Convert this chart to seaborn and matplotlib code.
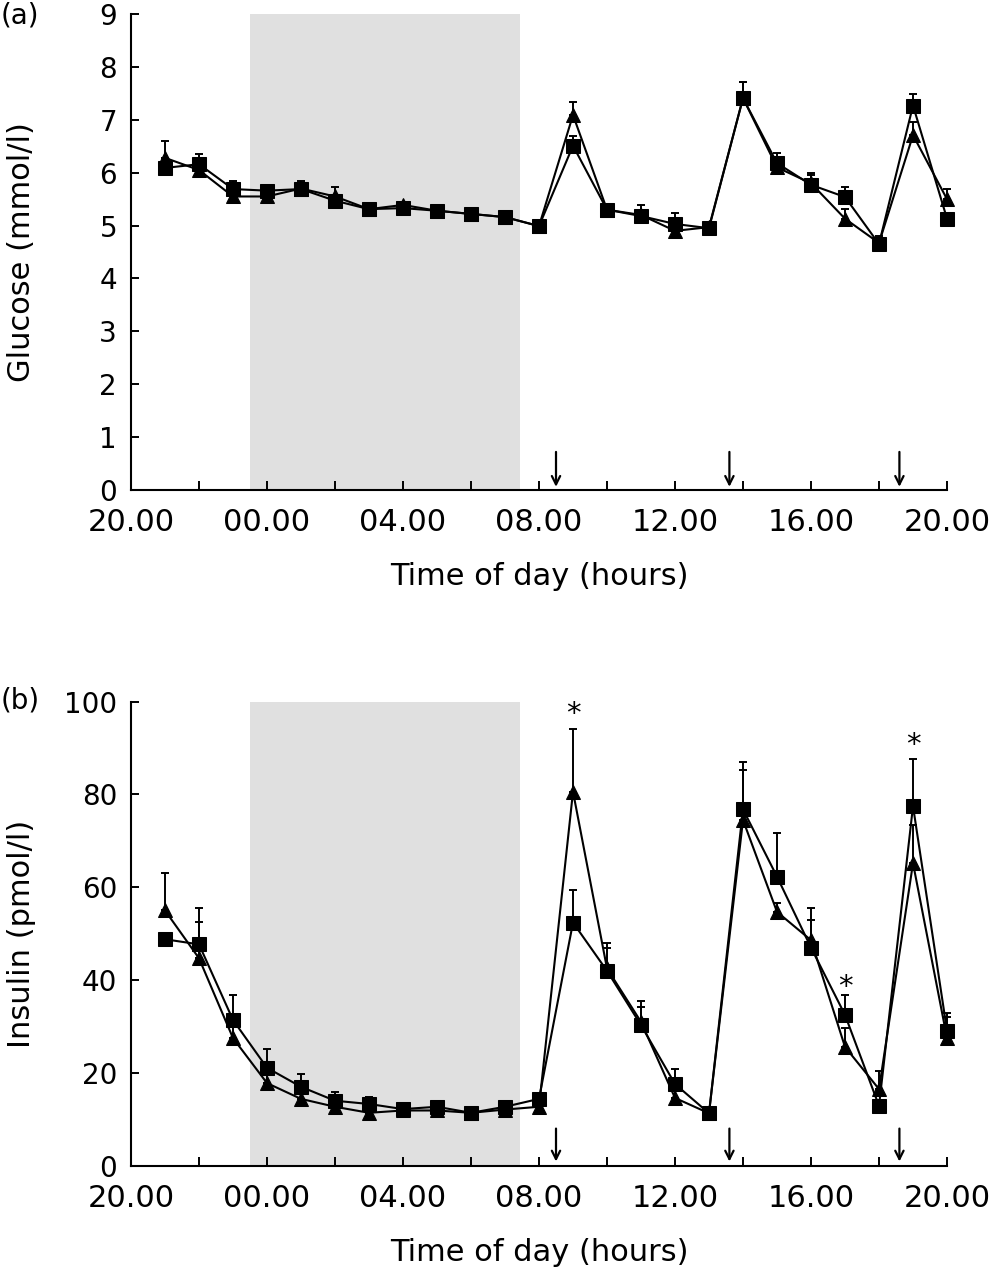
import numpy as np
import pandas as pd
import matplotlib
matplotlib.use("Agg")
import matplotlib.pyplot as plt
import seaborn as sns

# ---------------- data ----------------
# clock hours 21:00 (day 1) ... 20:00 (day 2), expressed as hours since 00:00 of day 1
hours = np.arange(21, 45)

glu_tri = [6.28, 6.05, 5.55, 5.55, 5.70, 5.55, 5.31, 5.39, 5.28, 5.22, 5.16, 4.99,
           7.09, 5.30, 5.20, 4.90, 4.97, 7.41, 6.10, 5.80, 5.13, 4.67, 6.71, 5.50]
glu_tri_se = [0.32, 0.10, 0.10, 0.08, 0.10, 0.17, 0.05, 0.06, 0.05, 0.05, 0.05, 0.05,
              0.25, 0.08, 0.10, 0.10, 0.05, 0.30, 0.20, 0.15, 0.19, 0.10, 0.25, 0.20]
glu_sq = [6.09, 6.16, 5.69, 5.66, 5.69, 5.47, 5.31, 5.33, 5.28, 5.22, 5.16, 4.99,
          6.51, 5.30, 5.18, 5.03, 4.95, 7.41, 6.18, 5.77, 5.54, 4.65, 7.27, 5.13]
glu_sq_se = [0.05, 0.19, 0.16, 0.05, 0.16, 0.05, 0.05, 0.05, 0.05, 0.04, 0.04, 0.04,
             0.18, 0.10, 0.21, 0.21, 0.08, 0.31, 0.19, 0.22, 0.18, 0.16, 0.22, 0.08]

ins_tri = [55.0, 44.7, 27.5, 17.8, 14.4, 12.7, 11.4, 11.9, 11.9, 11.4, 12.1, 12.7,
           80.6, 42.5, 31.0, 14.6, 11.3, 74.5, 54.7, 48.6, 25.6, 16.5, 65.2, 27.5]
ins_tri_se = [8.0, 7.8, 3.0, 2.0, 1.5, 1.0, 1.0, 0.8, 0.8, 0.8, 0.8, 0.8,
              13.5, 4.4, 3.3, 1.5, 0.8, 10.8, 2.0, 4.3, 4.1, 4.0, 8.2, 4.5]
ins_sq = [48.8, 47.7, 31.4, 21.1, 17.0, 14.0, 13.3, 12.2, 12.7, 11.4, 12.7, 14.4,
          52.4, 42.0, 30.3, 17.6, 11.3, 76.8, 62.3, 47.0, 32.5, 12.9, 77.5, 29.1]
ins_sq_se = [1.0, 7.9, 5.3, 4.0, 2.8, 1.9, 1.5, 0.8, 0.8, 0.8, 0.8, 0.8,
             7.0, 6.0, 5.3, 3.2, 0.8, 10.3, 9.3, 8.6, 4.3, 1.0, 10.1, 3.8]

night_start, night_end = 23.5, 31.45          # shaded sleeping period
meal_times = [32.5, 37.6, 42.6]               # arrows (meals)
star_hours = [33, 41, 43]                     # significance marks (insulin)
star_y = [95.6, 36.7, 89.0]

x_major = np.arange(20, 45, 4)
x_minor = np.arange(20, 45, 2)
x_labels = [f"{int(h) % 24:02d}.00" for h in x_major]

# ---------------- style ----------------
sns.set_theme(style="ticks")
plt.rcParams["font.family"] = ["DejaVu Sans"]
plt.rcParams["axes.linewidth"] = 1.5
plt.rcParams["text.color"] = "black"
plt.rcParams["axes.labelcolor"] = "black"
plt.rcParams["xtick.color"] = "black"
plt.rcParams["ytick.color"] = "black"

fig = plt.figure(figsize=(9.89, 12.72), dpi=100)
ax1 = fig.add_axes([0.13246, 0.61478, 0.82508, 0.37421])
ax2 = fig.add_axes([0.13246, 0.08357, 0.82508, 0.36478])

def panel(ax, tri, tri_se, sq, sq_se, ymax, ystep, ylabel, arrow_top, arrow_bot):
    ax.axvspan(night_start, night_end, ymin=0, ymax=1, color="#e0e0e0", lw=0, zorder=0)
    for y, se in ((tri, tri_se), (sq, sq_se)):
        eb = ax.errorbar(hours, y, yerr=[np.zeros(len(se)), se], fmt="none",
                         ecolor="black", elinewidth=1.4, capsize=2.7, capthick=1.4, zorder=2)
        for art in eb.lines[1] + eb.lines[2]:
            art.set_clip_on(False)
    sns.lineplot(x=hours, y=tri, ax=ax, color="black", lw=1.5, marker="^",
                 markersize=10, markeredgecolor="black", markerfacecolor="black",
                 zorder=3, errorbar=None, clip_on=False)
    sns.lineplot(x=hours, y=sq, ax=ax, color="black", lw=1.5, marker="s",
                 markersize=9.5, markeredgecolor="black", markerfacecolor="black",
                 zorder=4, errorbar=None, clip_on=False)
    for t in meal_times:
        ax.annotate("", xy=(t, arrow_bot), xytext=(t, arrow_top),
                    arrowprops=dict(arrowstyle="->,head_length=0.5,head_width=0.25",
                                    color="black", lw=1.6, shrinkA=0, shrinkB=0))
    ax.set_xlim(20, 44)
    ax.set_ylim(0, ymax)
    ax.set_xticks(x_major)
    ax.set_xticklabels(x_labels)
    ax.set_xticks(x_minor, minor=True)
    ax.set_yticks(np.arange(0, ymax + 0.01, ystep))
    ax.tick_params(axis="x", which="both", direction="in", length=6.5, width=1.4,
                   pad=13, labelsize=22, colors="black")
    ax.tick_params(axis="y", which="major", direction="in", length=6, width=1.4,
                   pad=10, labelsize=20, colors="black")
    ax.set_xlabel("Time of day (hours)", fontsize=22, labelpad=18, color="black")
    ax.set_ylabel(ylabel, fontsize=22, color="black")
    ax.yaxis.set_label_coords(-0.117, 0.5)
    sns.despine(ax=ax)
    for s in ("left", "bottom"):
        ax.spines[s].set_color("black")
        ax.spines[s].set_linewidth(1.5)

panel(ax1, glu_tri, glu_tri_se, glu_sq, glu_sq_se, 9, 1, "Glucose (mmol/l)", 0.72, 0.06)
panel(ax2, ins_tri, ins_tri_se, ins_sq, ins_sq_se, 100, 20, "Insulin (pmol/l)", 8.0, 0.9)

for h, y in zip(star_hours, star_y):
    ax2.text(h, y, "*", ha="center", va="baseline", fontsize=21, color="black")

fig.text(0.001, 0.999, "(a)", ha="left", va="top", fontsize=20, color="black")
fig.text(0.001, 0.460, "(b)", ha="left", va="top", fontsize=20, color="black")

fig.savefig("out.png", dpi=100)
